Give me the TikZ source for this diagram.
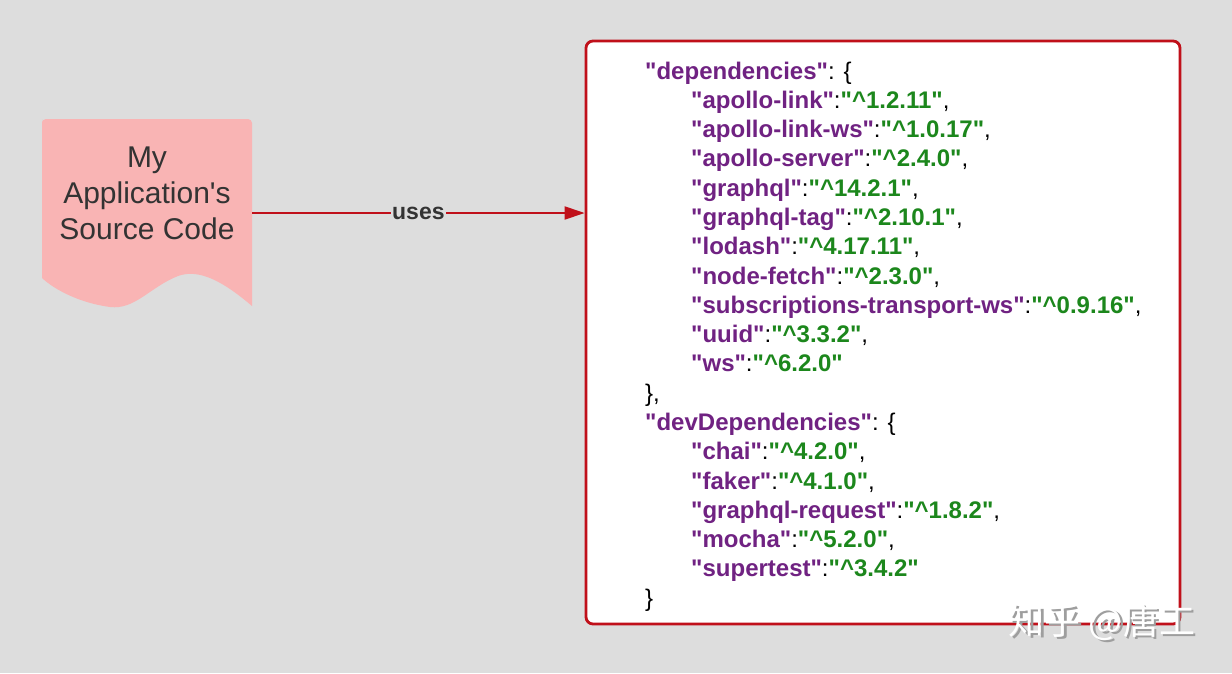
\documentclass[tikz,border=0pt]{standalone}
\usepackage{fontspec}
\setmainfont{Liberation Sans}[Ligatures=TeXOff]
\newfontfamily\cjk{Noto Sans CJK SC}
\usetikzlibrary{arrows.meta}
\definecolor{bg}{RGB}{221,221,221}
\definecolor{docpink}{RGB}{249,180,180}
\definecolor{boxred}{RGB}{192,16,26}
\definecolor{keypurple}{RGB}{112,34,130}
\definecolor{valgreen}{RGB}{28,135,28}
\definecolor{txtgray}{RGB}{51,51,51}
\newcommand{\pkey}[1]{\textcolor{keypurple}{\textbf{"#1"}}}
\newcommand{\pval}[1]{\textcolor{valgreen}{\textbf{"\textasciicircum#1"}}}
\newcommand{\ind}{\hspace*{46pt}}
\newcommand{\shadowed}[1]{\makebox[0pt][l]{\hspace{2.5pt}\raisebox{-2.5pt}{\textcolor{black!38}{#1}}}#1}
\begin{document}
\begin{tikzpicture}[x=1pt, y=-1pt,
		codebox/.style={draw=boxred, line width=2.8pt, fill=white, rounded corners=7pt, minimum width=594pt, minimum height=583pt},
		doctext/.style={align=center, text=txtgray, font=\fontsize{30}{36}\selectfont},
		codetext/.style={align=left, anchor=north west, inner sep=0pt, font=\fontsize{24}{29.28}\selectfont},
		link/.style={draw=boxred, line width=2pt, -{Triangle[length=20pt, width=13pt]}}]
	\useasboundingbox[fill=bg] (0,0) rectangle (1232,673);

	% source code document
	\fill[docpink] (42,123) -- (42,278) .. controls (55,290) and (80,303) .. (110,307)
		.. controls (135,310) and (150,287) .. (178,276)
		.. controls (200,268) and (225,283) .. (252,306) -- (252,123)
		[rounded corners=4pt] -- (252,119) -- (42,119) -- cycle;
	\node[minimum width=210pt, minimum height=186pt] (doc) at (147,213) {};
	\node[doctext] (src) at (147,193) {My\\Application's\\Source Code};

	% package.json box
	\node[codebox] (deps) at (883,332.5) {};
	\node[codetext] (json) at (645,61.5) {%
		\pkey{dependencies}: \{\\
		\ind\pkey{apollo-link}:\pval{1.2.11},\\
		\ind\pkey{apollo-link-ws}:\pval{1.0.17},\\
		\ind\pkey{apollo-server}:\pval{2.4.0},\\
		\ind\pkey{graphql}:\pval{14.2.1},\\
		\ind\pkey{graphql-tag}:\pval{2.10.1},\\
		\ind\pkey{lodash}:\pval{4.17.11},\\
		\ind\pkey{node-fetch}:\pval{2.3.0},\\
		\ind\pkey{subscriptions-transport-ws}:\pval{0.9.16},\\
		\ind\pkey{uuid}:\pval{3.3.2},\\
		\ind\pkey{ws}:\pval{6.2.0}\\
		\},\\
		\pkey{devDependencies}: \{\\
		\ind\pkey{chai}:\pval{4.2.0},\\
		\ind\pkey{faker}:\pval{4.1.0},\\
		\ind\pkey{graphql-request}:\pval{1.8.2},\\
		\ind\pkey{mocha}:\pval{5.2.0},\\
		\ind\pkey{supertest}:\pval{3.4.2}\\
		\}};

	\draw[link] (doc.east) -- node[fill=bg, inner sep=1pt, text=txtgray, font=\fontsize{23}{26}\selectfont\bfseries] (uses) {uses} (deps.west |- doc.east);

	% watermark
	\node[text=white, font=\cjk\fontsize{36}{40}\selectfont] (mark) at (1102,623) {\shadowed{知乎 @唐工}};
\end{tikzpicture}
\end{document}
